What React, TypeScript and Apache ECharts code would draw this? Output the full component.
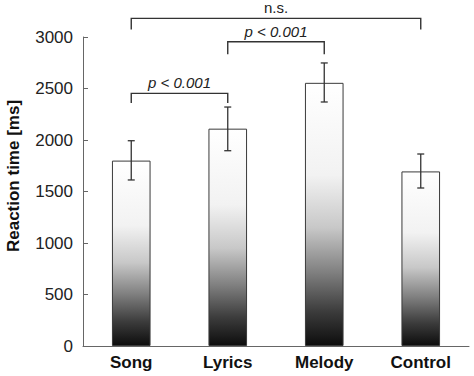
import React, { useEffect, useRef } from "react";
import * as echarts from "echarts";

const categories = ["Song", "Lyrics", "Melody", "Control"];
const meanRT = [1800, 2110, 2555, 1695];
const errLow = [1612, 1896, 2369, 1534];
const errHigh = [1993, 2320, 2748, 1864];
const yTicks = { min: 0, max: 3000, interval: 500 };
// brackets: [fromIndex, toIndex, topValue, bottomValue]
const brackets = [
  [0, 1, 2453, 2359],
  [1, 2, 2954, 2832],
  [0, 3, 3181, 3074],
];
const bracketLabels = ["p < 0.001", "p < 0.001", "n.s."];
const bracketItalic = [true, true, false];

const FONT = '"Liberation Sans", Arial, Helvetica, sans-serif';

export default function App() {
  const ref = useRef<HTMLDivElement>(null);
  useEffect(() => {
    if (!ref.current) return;
    const chart = echarts.init(ref.current, null, { renderer: "svg" });
    chart.setOption({
      animation: false,
      backgroundColor: "#ffffff",
      grid: { left: 83, right: 5, top: 37, bottom: 30, containLabel: false },
      graphic: [
        {
          type: "text",
          x: 13,
          y: 176,
          rotation: Math.PI / 2,
          style: {
            text: "Reaction time [ms]",
            font: `bold 17px ${FONT}`,
            fill: "#111",
            align: "center",
            verticalAlign: "middle",
          },
        },
      ],
      xAxis: {
        type: "category",
        data: categories,
        boundaryGap: true,
        axisLine: { lineStyle: { color: "#666", width: 1 } },
        axisTick: { inside: true, length: 6, lineStyle: { color: "#666" } },
        axisLabel: {
          color: "#111",
          fontFamily: FONT,
          fontWeight: "bold",
          fontSize: 17,
          margin: 8,
        },
        splitLine: { show: false },
      },
      yAxis: {
        type: "value",
        min: yTicks.min,
        max: yTicks.max,
        interval: yTicks.interval,
        axisLine: { show: true, lineStyle: { color: "#666", width: 1 } },
        axisTick: { show: true, inside: true, length: 5, lineStyle: { color: "#666" } },
        axisLabel: {
          color: "#222",
          fontFamily: FONT,
          fontSize: 17,
          margin: 10,
          formatter: (v: number) => String(v),
        },
        splitLine: { show: false },
      },
      series: [
        {
          type: "bar",
          data: meanRT,
          barWidth: "40%",
          itemStyle: {
            color: new echarts.graphic.LinearGradient(0, 0, 0, 1, [
              { offset: 0, color: "#ffffff" },
              { offset: 0.35, color: "#f2f2f2" },
              { offset: 0.55, color: "#c8c8c8" },
              { offset: 0.72, color: "#808080" },
              { offset: 0.87, color: "#3c3c3c" },
              { offset: 1, color: "#0d0d0d" },
            ]),
            borderColor: "#3a3a3a",
            borderWidth: 1,
          },
        },
        {
          type: "custom",
          data: categories.map((_, i) => [i, errLow[i], errHigh[i]]),
          encode: { x: 0, y: [1, 2] },
          clip: false,
          z: 5,
          renderItem: (params: any, api: any) => {
            const lo = api.coord([api.value(0), api.value(1)]);
            const hi = api.coord([api.value(0), api.value(2)]);
            const cap = 3.5;
            const style = { stroke: "#333", lineWidth: 1.3, fill: null };
            return {
              type: "group",
              children: [
                { type: "line", shape: { x1: lo[0], y1: lo[1], x2: hi[0], y2: hi[1] }, style },
                { type: "line", shape: { x1: lo[0] - cap, y1: lo[1], x2: lo[0] + cap, y2: lo[1] }, style },
                { type: "line", shape: { x1: hi[0] - cap, y1: hi[1], x2: hi[0] + cap, y2: hi[1] }, style },
              ],
            };
          },
        },
        {
          type: "custom",
          data: brackets,
          encode: { x: [0, 1], y: [2, 3] },
          clip: false,
          z: 5,
          renderItem: (params: any, api: any) => {
            const i = params.dataIndex;
            const a = api.coord([api.value(0), api.value(2)]);
            const b = api.coord([api.value(1), api.value(2)]);
            const bottom = api.coord([api.value(0), api.value(3)])[1];
            return {
              type: "group",
              children: [
                {
                  type: "polyline",
                  shape: {
                    points: [
                      [a[0], bottom],
                      [a[0], a[1]],
                      [b[0], b[1]],
                      [b[0], bottom],
                    ],
                  },
                  style: { stroke: "#333", lineWidth: 1.4, fill: null },
                },
                {
                  type: "text",
                  x: (a[0] + b[0]) / 2,
                  y: a[1] - 3,
                  style: {
                    text: bracketLabels[i],
                    font: `${bracketItalic[i] ? "italic " : ""}15px ${FONT}`,
                    fill: "#222",
                    align: "center",
                    verticalAlign: "bottom",
                  },
                },
              ],
            };
          },
        },
      ],
    });
    return () => chart.dispose();
  }, []);
  return (
    <div
      ref={ref}
      style={{ position: "fixed", left: 0, top: 0, width: 474, height: 376 }}
    />
  );
}
